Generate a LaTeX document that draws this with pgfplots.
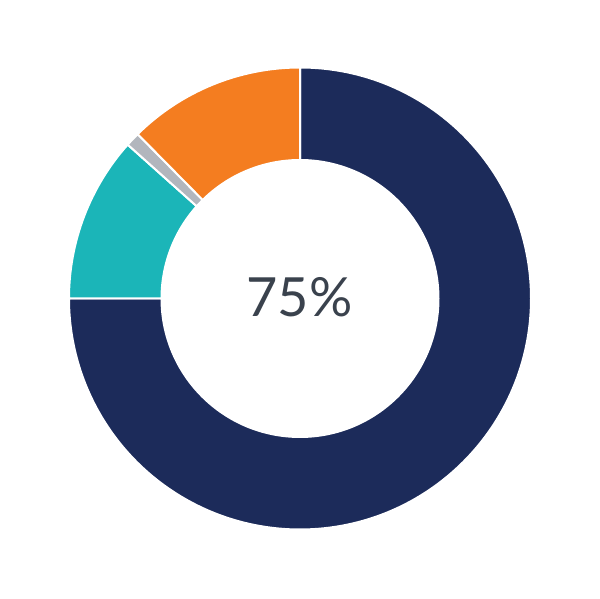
\documentclass[border=0pt]{standalone}
\usepackage{pgfplots}
\usepackage{pgfplotstable}
\pgfplotsset{compat=1.18}
\usepackage{fontspec}
\setmainfont{Lato}

\definecolor{navyc}{HTML}{1C2B5A}
\definecolor{tealc}{HTML}{1BB5B8}
\definecolor{grayc}{HTML}{B2B6BD}
\definecolor{orangec}{HTML}{F47D20}
\definecolor{textc}{HTML}{3A424D}

% share of each slice, clockwise from 12 o'clock
\pgfplotstableread{
part   value col
Navy   75.0  navyc
Teal   11.6  tealc
Gray   1.0   grayc
Orange 12.4  orangec
}\slices

\begin{document}
\begin{tikzpicture}
\begin{axis}[
    scale only axis,
    width=600pt, height=599pt,
    xmin=0, xmax=600,
    ymin=0, ymax=599,
    hide axis,
    clip=false,
]
\path (axis cs:0,0) rectangle (axis cs:600,599);
\coordinate (c) at (axis cs:300,300.5);
\node[anchor=base, inner sep=0pt, text=textc, font=\fontsize{54}{56}\selectfont]
    at (axis cs:299.5,282.3) {75\%};
\end{axis}

\pgfplotstablegetrowsof{\slices}
\pgfmathtruncatemacro\last{\pgfplotsretval-1}
\xdef\cum{0}
\foreach \i in {0,...,\last}{
    \pgfplotstablegetelem{\i}{value}\of\slices \let\v\pgfplotsretval
    \pgfplotstablegetelem{\i}{col}\of\slices \let\cc\pgfplotsretval
    \pgfmathsetmacro\aa{90-\cum*3.6}
    \pgfmathsetmacro\ab{90-(\cum+\v)*3.6}
    \fill[\cc, draw=white, line width=2pt]
        ([shift={(\aa:231pt)}]c) arc[start angle=\aa, end angle=\ab, radius=231pt]
        -- ([shift={(\ab:138.5pt)}]c) arc[start angle=\ab, end angle=\aa, radius=138.5pt]
        -- cycle;
    \pgfmathsetmacro\nc{\cum+\v}
    \xdef\cum{\nc}
}
\end{tikzpicture}
\end{document}
